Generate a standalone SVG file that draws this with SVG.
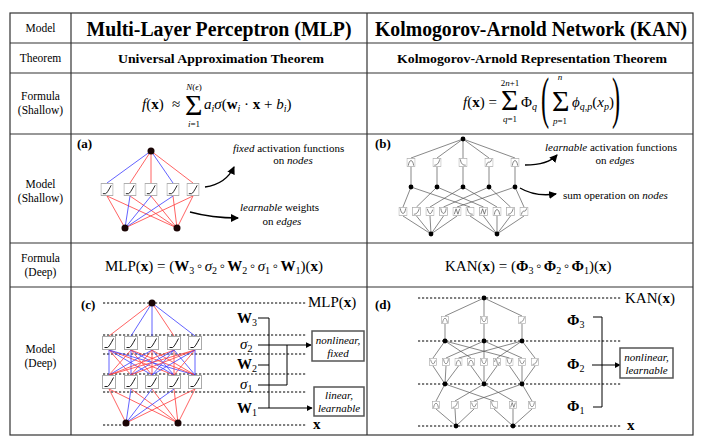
<svg xmlns="http://www.w3.org/2000/svg" width="707" height="444" viewBox="0 0 707 444">
<style>
text{font-family:"Liberation Serif","Times New Roman",serif;fill:#000}
.lb{font-size:11.5px;text-anchor:middle}
.hd{font-size:20px;font-weight:bold;text-anchor:middle}
.th{font-size:13px;font-weight:bold;text-anchor:middle}
.an{font-size:11px}
.pl{font-size:13px;font-weight:bold}
.it{font-style:italic}
.bf{font-weight:bold}
.grid{stroke:#333;stroke-width:1.2;fill:none}
.dash{stroke:#000;stroke-width:1;stroke-dasharray:2.2 1.8}
.r{stroke:#ff3b3b;stroke-width:0.8}
.b{stroke:#3b3bff;stroke-width:0.8}
.k{stroke:#555;stroke-width:0.7;fill:none}
.ln{stroke:#000;stroke-width:1;fill:none}
.cv{stroke:#000;stroke-width:1.3;fill:none}
.mn{fill:#1a0505}
.kn{fill:#000}
.bx{fill:#fff;stroke:#555;stroke-width:1.5}
</style>
<defs>
<marker id="ah" viewBox="0 0 8 8" refX="7" refY="4" markerWidth="6" markerHeight="6" markerUnits="userSpaceOnUse" orient="auto"><path d="M0,0 L8,4 L0,8 z" fill="#000"/></marker>
<marker id="ah2" viewBox="0 0 8 8" refX="7" refY="4" markerWidth="8" markerHeight="8" markerUnits="userSpaceOnUse" orient="auto"><path d="M0,0 L8,4 L0,8 z" fill="#000"/></marker>
<symbol id="mb" viewBox="0 0 14 14"><rect x="0.5" y="0.5" width="13" height="13" fill="#fff" stroke="#aaa" stroke-width="1"/><path d="M2.5,11.5 L5.5,11.5 Q7,11.3 11.5,2.5" fill="none" stroke="#000" stroke-width="0.9"/></symbol>
<symbol id="k1" viewBox="0 0 10 10"><rect x="0.5" y="0.5" width="9" height="9" fill="#fff" stroke="#aaa" stroke-width="0.8"/><path d="M2,8.5 C3,1 7,1 8,8.5" fill="none" stroke="#555" stroke-width="0.8"/></symbol>
<symbol id="k2" viewBox="0 0 10 10"><rect x="0.5" y="0.5" width="9" height="9" fill="#fff" stroke="#aaa" stroke-width="0.8"/><path d="M2,8 C5,8 7,6 8,1.5" fill="none" stroke="#555" stroke-width="0.8"/></symbol>
<symbol id="k3" viewBox="0 0 10 10"><rect x="0.5" y="0.5" width="9" height="9" fill="#fff" stroke="#aaa" stroke-width="0.8"/><path d="M2,1.5 C3,7 5,8 8,8" fill="none" stroke="#555" stroke-width="0.8"/></symbol>
<symbol id="k4" viewBox="0 0 10 10"><rect x="0.5" y="0.5" width="9" height="9" fill="#fff" stroke="#aaa" stroke-width="0.8"/><path d="M2,8.5 C4,1 6,8 8,1.5" fill="none" stroke="#555" stroke-width="0.8"/></symbol>
<symbol id="k5" viewBox="0 0 10 10"><rect x="0.5" y="0.5" width="9" height="9" fill="#fff" stroke="#aaa" stroke-width="0.8"/><path d="M2,1.5 C3,9 7,9 8,1.5" fill="none" stroke="#555" stroke-width="0.8"/></symbol>
<symbol id="k6" viewBox="0 0 10 10"><rect x="0.5" y="0.5" width="9" height="9" fill="#fff" stroke="#aaa" stroke-width="0.8"/><path d="M2,8 L4,2 L6,8 L8,2" fill="none" stroke="#555" stroke-width="0.8"/></symbol>
<symbol id="k7" viewBox="0 0 10 10"><rect x="0.5" y="0.5" width="9" height="9" fill="#fff" stroke="#aaa" stroke-width="0.8"/><path d="M2,5 C3,0 4,0 5,5 C6,10 7,10 8,5" fill="none" stroke="#555" stroke-width="0.8"/></symbol>
<symbol id="k8" viewBox="0 0 10 10"><rect x="0.5" y="0.5" width="9" height="9" fill="#fff" stroke="#aaa" stroke-width="0.8"/><path d="M2,2 C4,9 6,9 8,3" fill="none" stroke="#555" stroke-width="0.8"/></symbol>
</defs>

<rect width="707" height="444" fill="#fff"/>

<g id="table">
<rect class="grid" x="10" y="13" width="683" height="422" stroke-width="1.6"/>
<line class="grid" x1="10" y1="43" x2="693" y2="43"/>
<line class="grid" x1="10" y1="73" x2="693" y2="73"/>
<line class="grid" x1="10" y1="134" x2="693" y2="134"/>
<line class="grid" x1="10" y1="243" x2="693" y2="243"/>
<line class="grid" x1="10" y1="287" x2="693" y2="287"/>
<line class="grid" x1="71" y1="13" x2="71" y2="435"/>
<line class="grid" x1="367" y1="13" x2="367" y2="435"/>
</g>

<g id="row-labels">
<text class="lb" x="40.5" y="32">Model</text>
<text class="lb" x="40.5" y="62">Theorem</text>
<text class="lb" x="40.5" y="100">Formula</text>
<text class="lb" x="40.5" y="114">(Shallow)</text>
<text class="lb" x="40.5" y="188">Model</text>
<text class="lb" x="40.5" y="202">(Shallow)</text>
<text class="lb" x="40.5" y="262">Formula</text>
<text class="lb" x="40.5" y="276">(Deep)</text>
<text class="lb" x="40.5" y="353">Model</text>
<text class="lb" x="40.5" y="367">(Deep)</text>
</g>

<g id="headers">
<text class="hd" x="219" y="36" textLength="265" lengthAdjust="spacingAndGlyphs">Multi-Layer Perceptron (MLP)</text>
<text class="hd" x="531" y="36" textLength="312" lengthAdjust="spacingAndGlyphs">Kolmogorov-Arnold Network (KAN)</text>
<text class="th" x="221" y="63" textLength="206" lengthAdjust="spacingAndGlyphs">Universal Approximation Theorem</text>
<text class="th" x="532" y="63" textLength="270" lengthAdjust="spacingAndGlyphs">Kolmogorov-Arnold Representation Theorem</text>
</g>

<g id="formula-mlp-shallow">
<text x="142" y="109" font-size="15"><tspan class="it">f</tspan>(<tspan class="bf">x</tspan>)</text>
<text x="172" y="109" font-size="15">≈</text>
<text x="185" y="115" font-size="30">Σ</text>
<text x="194" y="90" font-size="9" text-anchor="middle"><tspan class="it">N</tspan>(<tspan class="it">ϵ</tspan>)</text>
<text x="194" y="127" font-size="9" text-anchor="middle"><tspan class="it">i</tspan>=1</text>
<text x="204" y="109" font-size="15"><tspan class="it">a</tspan><tspan class="it" font-size="10" dy="3">i</tspan><tspan class="it" dy="-3">σ</tspan>(<tspan class="bf">w</tspan><tspan class="it" font-size="10" dy="3">i</tspan><tspan dy="-3"> · </tspan><tspan class="bf">x</tspan> + <tspan class="it">b</tspan><tspan class="it" font-size="10" dy="3">i</tspan><tspan dy="-3">)</tspan></text>
</g>

<g id="formula-kan-shallow">
<text x="463" y="107" font-size="15"><tspan class="it">f</tspan>(<tspan class="bf">x</tspan>) =</text>
<text x="501" y="110" font-size="30">Σ</text>
<text x="510" y="86" font-size="9" text-anchor="middle">2<tspan class="it">n</tspan>+1</text>
<text x="510" y="122" font-size="9" text-anchor="middle"><tspan class="it">q</tspan>=1</text>
<text x="521" y="107" font-size="15">Φ<tspan class="it" font-size="10" dy="3">q</tspan></text>
<text transform="translate(541,117) scale(0.42,1)" font-size="58">(</text>
<text x="552" y="111" font-size="30">Σ</text>
<text x="560" y="80" font-size="9" class="it" text-anchor="middle">n</text>
<text x="560" y="124" font-size="9" text-anchor="middle"><tspan class="it">p</tspan>=1</text>
<text x="572" y="107" font-size="15"><tspan class="it">ϕ</tspan><tspan class="it" font-size="10" dy="3">q,p</tspan><tspan dy="-3">(</tspan><tspan class="it">x</tspan><tspan class="it" font-size="10" dy="3">p</tspan><tspan dy="-3">)</tspan></text>
<text transform="translate(612,117) scale(0.42,1)" font-size="58">)</text>
</g>

<g id="formula-deep">
<text x="105" y="271" font-size="15">MLP(<tspan class="bf">x</tspan>) = (<tspan class="bf">W</tspan><tspan font-size="10" dy="3">3</tspan><tspan dy="-3" dx="2.5">◦</tspan><tspan class="it" dx="2.5">σ</tspan><tspan font-size="10" dy="3">2</tspan><tspan dy="-3" dx="2.5">◦</tspan><tspan class="bf" dx="2.5">W</tspan><tspan font-size="10" dy="3">2</tspan><tspan dy="-3" dx="2.5">◦</tspan><tspan class="it" dx="2.5">σ</tspan><tspan font-size="10" dy="3">1</tspan><tspan dy="-3" dx="2.5">◦</tspan><tspan class="bf" dx="2.5">W</tspan><tspan font-size="10" dy="3">1</tspan><tspan dy="-3">)(</tspan><tspan class="bf">x</tspan>)</text>
<text x="445" y="271" font-size="15">KAN(<tspan class="bf">x</tspan>) = (<tspan class="bf">Φ</tspan><tspan font-size="10" dy="3">3</tspan><tspan dy="-3" dx="2.5">◦</tspan><tspan class="bf" dx="2.5">Φ</tspan><tspan font-size="10" dy="3">2</tspan><tspan dy="-3" dx="2.5">◦</tspan><tspan class="bf" dx="2.5">Φ</tspan><tspan font-size="10" dy="3">1</tspan><tspan dy="-3">)(</tspan><tspan class="bf">x</tspan>)</text>
</g>

<!-- (a) MLP shallow -->
<g id="panel-a">
<text class="pl" x="77" y="148">(a)</text>
<g id="connectors-a">
<line class="b" x1="151" y1="151" x2="107" y2="183"/>
<line class="r" x1="151" y1="151" x2="130" y2="183"/>
<line class="r" x1="151" y1="151" x2="151" y2="183"/>
<line class="b" x1="151" y1="151" x2="173" y2="183"/>
<line class="r" x1="151" y1="151" x2="193" y2="183"/>
<line class="r" x1="107" y1="196" x2="177" y2="228"/>
<line class="r" x1="130" y1="196" x2="177" y2="228"/>
<line class="r" x1="151" y1="196" x2="177" y2="228"/>
<line class="r" x1="173" y1="196" x2="177" y2="228"/>
<line class="r" x1="193" y1="196" x2="177" y2="228"/>
<line class="r" x1="107" y1="196" x2="125" y2="228"/>
<line class="b" x1="130" y1="196" x2="125" y2="228"/>
<line class="b" x1="151" y1="196" x2="125" y2="228"/>
<line class="b" x1="173" y1="196" x2="125" y2="228"/>
<line class="r" x1="193" y1="196" x2="125" y2="228"/>
<path class="cv" d="M205,187 Q226,184 234,167" marker-end="url(#ah2)"/>
<path class="cv" d="M190,212 Q212,218 238,218" marker-end="url(#ah2)"/>
</g>
<use href="#mb" x="100.5" y="183" width="13" height="13"/>
<use href="#mb" x="123.5" y="183" width="13" height="13"/>
<use href="#mb" x="144.5" y="183" width="13" height="13"/>
<use href="#mb" x="166.5" y="183" width="13" height="13"/>
<use href="#mb" x="186.5" y="183" width="13" height="13"/>
<circle class="mn" cx="151" cy="151" r="3.5"/>
<circle class="mn" cx="125" cy="228" r="3.5"/>
<circle class="mn" cx="177" cy="228" r="3.5"/>
<text class="an" x="233" y="152"><tspan class="it">fixed</tspan> activation functions</text>
<text class="an" x="293" y="164" text-anchor="middle">on <tspan class="it">nodes</tspan></text>
<text class="an" x="240" y="211"><tspan class="it">learnable</tspan> weights</text>
<text class="an" x="282" y="225" text-anchor="middle">on <tspan class="it">edges</tspan></text>
</g>

<!-- (b) KAN shallow -->
<g id="panel-b">
<text class="pl" x="375" y="148">(b)</text>
<g id="connectors-b" class="k">
<path d="M463,139 L411,158 M463,139 L437,158 M463,139 L463,158 M463,139 L489,158 M463,139 L515,158"/>
<path d="M411,167 V187 M437,167 V187 M463,167 V187 M489,167 V187 M515,167 V187"/>
<path d="M411,187 L403,207 M411,187 L470,207 M437,187 L416.5,207 M437,187 L483.5,207 M463,187 L430,207 M463,187 L497,207 M489,187 L443.5,207 M489,187 L510.5,207 M515,187 L457,207 M515,187 L524,207"/>
<path d="M403,216 L431,234 M416.5,216 L431,234 M430,216 L431,234 M443.5,216 L431,234 M457,216 L431,234 M470,216 L497,234 M483.5,216 L497,234 M497,216 L497,234 M510.5,216 L497,234 M524,216 L497,234"/>
<path class="cv" d="M525,165 Q548,165 557,155" marker-end="url(#ah2)"/>
<path class="cv" d="M520,188 Q535,197 556,194" marker-end="url(#ah2)"/>
</g>
<use href="#k1" x="406.5" y="158" width="9" height="9"/>
<use href="#k2" x="432.5" y="158" width="9" height="9"/>
<use href="#k3" x="458.5" y="158" width="9" height="9"/>
<use href="#k4" x="484.5" y="158" width="9" height="9"/>
<use href="#k1" x="510.5" y="158" width="9" height="9"/>
<use href="#k5" x="398.5" y="207" width="9" height="9"/>
<use href="#k2" x="412" y="207" width="9" height="9"/>
<use href="#k8" x="425.5" y="207" width="9" height="9"/>
<use href="#k5" x="439" y="207" width="9" height="9"/>
<use href="#k6" x="452.5" y="207" width="9" height="9"/>
<use href="#k3" x="465.5" y="207" width="9" height="9"/>
<use href="#k6" x="479" y="207" width="9" height="9"/>
<use href="#k1" x="492.5" y="207" width="9" height="9"/>
<use href="#k2" x="506" y="207" width="9" height="9"/>
<use href="#k4" x="519.5" y="207" width="9" height="9"/>
<circle class="kn" cx="463" cy="139" r="2.4"/>
<circle class="kn" cx="411" cy="187" r="2.4"/>
<circle class="kn" cx="437" cy="187" r="2.4"/>
<circle class="kn" cx="463" cy="187" r="2.4"/>
<circle class="kn" cx="489" cy="187" r="2.4"/>
<circle class="kn" cx="515" cy="187" r="2.4"/>
<circle class="kn" cx="431" cy="234" r="2.4"/>
<circle class="kn" cx="497" cy="234" r="2.4"/>
<text class="an" x="545" y="151"><tspan class="it">learnable</tspan> activation functions</text>
<text class="an" x="615" y="164" text-anchor="middle">on <tspan class="it">edges</tspan></text>
<text class="an" x="563" y="199">sum operation on <tspan class="it">nodes</tspan></text>
</g>

<!-- (c) MLP deep -->
<g id="panel-c">
<text class="pl" x="81" y="309">(c)</text>
<g id="dashes-c" class="dash">
<line x1="103" y1="303" x2="306" y2="303"/>
<line x1="103" y1="335" x2="306" y2="335"/>
<line x1="103" y1="354" x2="306" y2="354"/>
<line x1="103" y1="374" x2="306" y2="374"/>
<line x1="103" y1="392" x2="306" y2="392"/>
<line x1="103" y1="425" x2="306" y2="425"/>
</g>
<g id="connectors-c">
<line class="r" x1="152" y1="303" x2="109" y2="336"/>
<line class="b" x1="152" y1="303" x2="131" y2="336"/>
<line class="b" x1="152" y1="303" x2="152" y2="336"/>
<line class="r" x1="152" y1="303" x2="174" y2="336"/>
<line class="b" x1="152" y1="303" x2="195" y2="336"/>
<line class="b" x1="109" y1="350" x2="109" y2="375"/>
<line class="r" x1="109" y1="350" x2="131" y2="375"/>
<line class="b" x1="109" y1="350" x2="152" y2="375"/>
<line class="r" x1="109" y1="350" x2="174" y2="375"/>
<line class="b" x1="109" y1="350" x2="195" y2="375"/>
<line class="r" x1="131" y1="350" x2="109" y2="375"/>
<line class="b" x1="131" y1="350" x2="131" y2="375"/>
<line class="r" x1="131" y1="350" x2="152" y2="375"/>
<line class="b" x1="131" y1="350" x2="174" y2="375"/>
<line class="r" x1="131" y1="350" x2="195" y2="375"/>
<line class="b" x1="152" y1="350" x2="109" y2="375"/>
<line class="r" x1="152" y1="350" x2="131" y2="375"/>
<line class="r" x1="152" y1="350" x2="152" y2="375"/>
<line class="b" x1="152" y1="350" x2="174" y2="375"/>
<line class="r" x1="152" y1="350" x2="195" y2="375"/>
<line class="r" x1="174" y1="350" x2="109" y2="375"/>
<line class="b" x1="174" y1="350" x2="131" y2="375"/>
<line class="b" x1="174" y1="350" x2="152" y2="375"/>
<line class="r" x1="174" y1="350" x2="174" y2="375"/>
<line class="b" x1="174" y1="350" x2="195" y2="375"/>
<line class="r" x1="195" y1="350" x2="109" y2="375"/>
<line class="r" x1="195" y1="350" x2="131" y2="375"/>
<line class="b" x1="195" y1="350" x2="152" y2="375"/>
<line class="r" x1="195" y1="350" x2="174" y2="375"/>
<line class="b" x1="195" y1="350" x2="195" y2="375"/>
<line class="r" x1="109" y1="389" x2="178" y2="423"/>
<line class="r" x1="131" y1="389" x2="178" y2="423"/>
<line class="r" x1="152" y1="389" x2="178" y2="423"/>
<line class="r" x1="174" y1="389" x2="178" y2="423"/>
<line class="r" x1="195" y1="389" x2="178" y2="423"/>
<line class="r" x1="109" y1="389" x2="126" y2="423"/>
<line class="b" x1="131" y1="389" x2="126" y2="423"/>
<line class="b" x1="152" y1="389" x2="126" y2="423"/>
<line class="b" x1="174" y1="389" x2="126" y2="423"/>
<line class="r" x1="195" y1="389" x2="126" y2="423"/>
</g>
<use href="#mb" x="102" y="336" width="14" height="14"/>
<use href="#mb" x="124" y="336" width="14" height="14"/>
<use href="#mb" x="145" y="336" width="14" height="14"/>
<use href="#mb" x="167" y="336" width="14" height="14"/>
<use href="#mb" x="188" y="336" width="14" height="14"/>
<use href="#mb" x="102" y="375" width="14" height="14"/>
<use href="#mb" x="124" y="375" width="14" height="14"/>
<use href="#mb" x="145" y="375" width="14" height="14"/>
<use href="#mb" x="167" y="375" width="14" height="14"/>
<use href="#mb" x="188" y="375" width="14" height="14"/>
<circle class="mn" cx="152" cy="303" r="3.5"/>
<circle class="mn" cx="126" cy="423" r="3.5"/>
<circle class="mn" cx="178" cy="423" r="3.5"/>
<text x="308" y="307" font-size="15">MLP(<tspan class="bf">x</tspan>)</text>
<text x="313" y="429" font-size="15" class="bf">x</text>
<text x="237" y="323" font-size="15"><tspan class="bf">W</tspan><tspan font-size="10" dy="3">3</tspan></text>
<text x="240" y="349" font-size="15"><tspan class="it">σ</tspan><tspan font-size="10" dy="3">2</tspan></text>
<text x="237" y="369" font-size="15"><tspan class="bf">W</tspan><tspan font-size="10" dy="3">2</tspan></text>
<text x="240" y="389" font-size="15"><tspan class="it">σ</tspan><tspan font-size="10" dy="3">1</tspan></text>
<text x="237" y="413" font-size="15"><tspan class="bf">W</tspan><tspan font-size="10" dy="3">1</tspan></text>
<g id="brackets-c" class="ln">
<path d="M258,318 H269 V408"/>
<path d="M258,365 H269"/>
<path d="M258,408 H312" marker-end="url(#ah)"/>
<path d="M258,345 H311" marker-end="url(#ah)"/>
<path d="M258,385 H287 V345"/>
</g>
<g id="box-nonlinear-fixed">
<rect class="bx" x="312" y="331" width="52" height="30"/>
<text class="an it" x="338" y="344" text-anchor="middle">nonlinear,</text>
<text class="an it" x="338" y="357" text-anchor="middle">fixed</text>
</g>
<g id="box-linear-learnable">
<rect class="bx" x="314" y="387" width="50" height="29"/>
<text class="an it" x="339" y="399" text-anchor="middle">linear,</text>
<text class="an it" x="339" y="412" text-anchor="middle">learnable</text>
</g>
</g>

<!-- (d) KAN deep -->
<g id="panel-d">
<text class="pl" x="375" y="309">(d)</text>
<g id="dashes-d" class="dash">
<line x1="418" y1="298" x2="622" y2="298"/>
<line x1="418" y1="341" x2="622" y2="341"/>
<line x1="418" y1="384" x2="622" y2="384"/>
<line x1="418" y1="426" x2="622" y2="426"/>
</g>
<g id="connectors-d" class="k">
<path d="M484,298 L445,316 M484,298 L484,316 M484,298 L522,316"/>
<path d="M445,324 V341 M484,324 V341 M522,324 V341"/>
<path d="M433,358 L445,341 M446,358 L484,341 M458.5,358 L522,341 M471,358 L445,341 M484,358 L484,341 M497,358 L522,341 M509.5,358 L445,341 M522,358 L484,341 M535,358 L522,341"/>
<path d="M433,366 L445,384 M446,366 L445,384 M458.5,366 L445,384 M471,366 L484,384 M484,366 L484,384 M497,366 L484,384 M509.5,366 L522,384 M522,366 L522,384 M535,366 L522,384"/>
<path d="M436,401 L445,384 M455,401 L484,384 M474,401 L522,384 M494,401 L445,384 M513,401 L484,384 M532,401 L522,384"/>
<path d="M436,409 L456,426 M455,409 L456,426 M474,409 L456,426 M494,409 L513,426 M513,409 L513,426 M532,409 L513,426"/>
</g>
<use href="#k1" x="441" y="316" width="8" height="8"/>
<use href="#k5" x="480" y="316" width="8" height="8"/>
<use href="#k2" x="518" y="316" width="8" height="8"/>
<use href="#k8" x="429" y="358" width="8" height="8"/>
<use href="#k5" x="442" y="358" width="8" height="8"/>
<use href="#k1" x="454.5" y="358" width="8" height="8"/>
<use href="#k1" x="467" y="358" width="8" height="8"/>
<use href="#k5" x="480" y="358" width="8" height="8"/>
<use href="#k7" x="493" y="358" width="8" height="8"/>
<use href="#k5" x="505.5" y="358" width="8" height="8"/>
<use href="#k8" x="518" y="358" width="8" height="8"/>
<use href="#k2" x="531" y="358" width="8" height="8"/>
<use href="#k1" x="432" y="401" width="8" height="8"/>
<use href="#k2" x="451" y="401" width="8" height="8"/>
<use href="#k8" x="470" y="401" width="8" height="8"/>
<use href="#k3" x="490" y="401" width="8" height="8"/>
<use href="#k6" x="509" y="401" width="8" height="8"/>
<use href="#k5" x="528" y="401" width="8" height="8"/>
<circle class="kn" cx="484" cy="298" r="2.4"/>
<circle class="kn" cx="445" cy="341" r="2.4"/>
<circle class="kn" cx="484" cy="341" r="2.4"/>
<circle class="kn" cx="522" cy="341" r="2.4"/>
<circle class="kn" cx="445" cy="384" r="2.4"/>
<circle class="kn" cx="484" cy="384" r="2.4"/>
<circle class="kn" cx="522" cy="384" r="2.4"/>
<circle class="kn" cx="456" cy="426" r="2.4"/>
<circle class="kn" cx="513" cy="426" r="2.4"/>
<text x="625" y="303" font-size="15">KAN(<tspan class="bf">x</tspan>)</text>
<text x="627" y="430" font-size="15" class="bf">x</text>
<text x="567" y="325" font-size="15"><tspan class="bf">Φ</tspan><tspan font-size="10" dy="3">3</tspan></text>
<text x="567" y="369" font-size="15"><tspan class="bf">Φ</tspan><tspan font-size="10" dy="3">2</tspan></text>
<text x="567" y="411" font-size="15"><tspan class="bf">Φ</tspan><tspan font-size="10" dy="3">1</tspan></text>
<g id="brackets-d" class="ln">
<path d="M593,317 H602 V407 H593"/>
<path d="M592,365 H620" marker-end="url(#ah)"/>
</g>
<g id="box-nonlinear-learnable">
<rect class="bx" x="620" y="348" width="53" height="30"/>
<text class="an it" x="646.5" y="361" text-anchor="middle">nonlinear,</text>
<text class="an it" x="646.5" y="374" text-anchor="middle">learnable</text>
</g>
</g>
</svg>
